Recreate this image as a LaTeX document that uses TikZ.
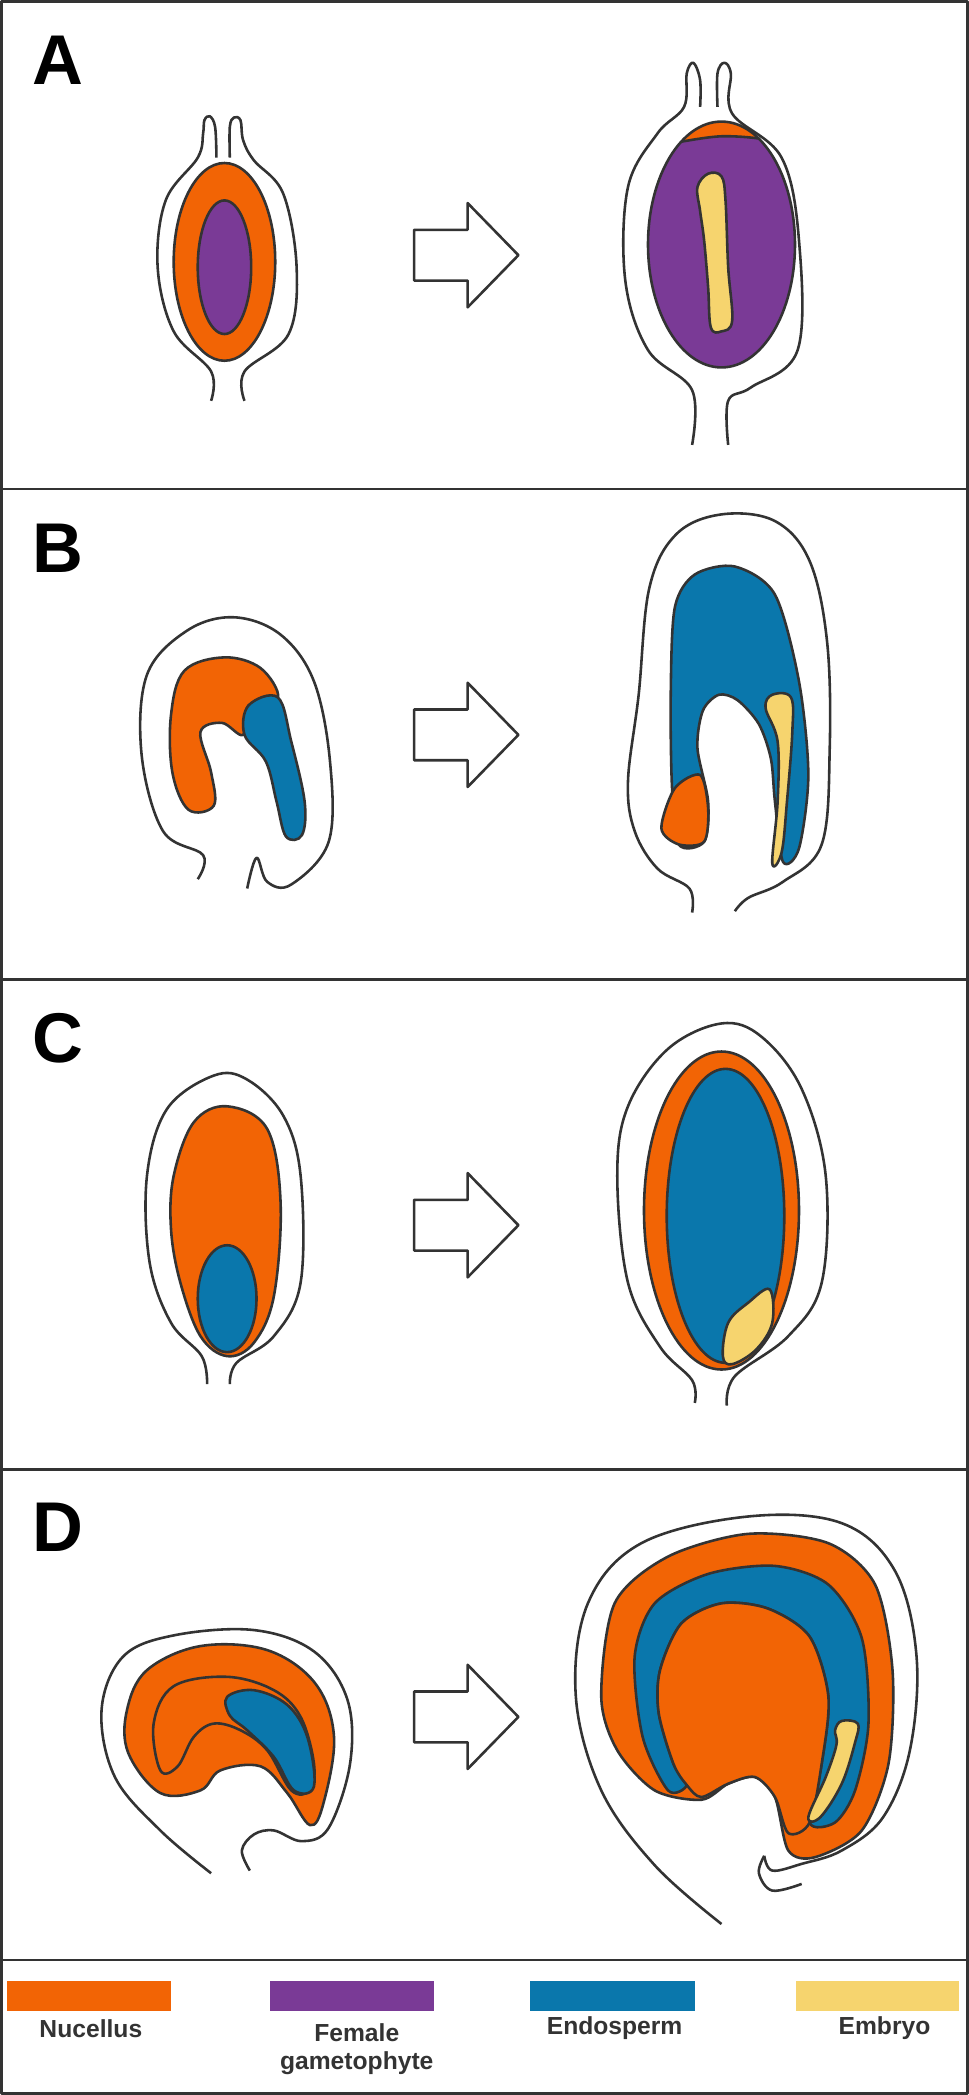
\documentclass[tikz,border=0pt]{standalone}
\usepackage{fontspec}
\setmainfont{Liberation Sans}
\definecolor{nuc}{HTML}{F26405}
\definecolor{fem}{HTML}{7A3A96}
\definecolor{endo}{HTML}{0A77AC}
\definecolor{emb}{HTML}{F6D46E}
\definecolor{ln}{HTML}{333333}
\begin{document}
\begin{tikzpicture}[x=0.02cm,y=-0.02cm,
  ol/.style={draw=ln,line width=1.1pt,line join=round},
  part/.style={ol,fill=#1},
  panellbl/.style={font=\fontsize{30}{32}\selectfont\bfseries,anchor=west},
  leglbl/.style={font=\fontsize{10.5}{12}\selectfont\bfseries,text=ln,align=center},
  blockarrow/.style={ol,fill=white}]
\useasboundingbox (0,0) rectangle (725,1568);
\draw[ol] (1,1) rectangle (724,1567);
\foreach \yy in {366,733,1100,1467} \draw[ol] (1,\yy) -- (724,\yy);
\node[panellbl] (la) at (18,45) {A};
\node[panellbl] (lb) at (18,410) {B};
\node[panellbl] (lc) at (18,777) {C};
\node[panellbl] (ld) at (18,1143) {D};
% arrows
\foreach \cy in {191,550,917,1285}
  \draw[blockarrow] (310,\cy-19) -- (350,\cy-19) -- (350,\cy-39) -- (388,\cy) -- (350,\cy+39) -- (350,\cy+19) -- (310,\cy+19) -- cycle;
% ---- A left
\draw[ol] plot[smooth,tension=0.6] coordinates {(158,300)(158,278)(130,248)(118,200)(124,150)(148,118)(152,100)(153,90)(157,87)(161,95)(162,118)};
\draw[ol] plot[smooth,tension=0.6] coordinates {(172,118)(172,95)(175,88)(180,90)(182,105)(190,120)(212,145)(222,200)(216,250)(183,278)(183,300)};
\draw[part=nuc] (168,196) ellipse (38 and 74);
\draw[part=fem] (168,200) ellipse (20 and 50);
% ---- A right
\draw[ol] plot[smooth,tension=0.6] coordinates {(518,333)(518,292)(485,262)(468,210)(470,140)(492,100)(512,80)(514,55)(519,47)(524,60)(524,80)};
\draw[ol] plot[smooth,tension=0.6] coordinates {(537,80)(537,55)(542,47)(547,55)(548,85)(585,118)(598,180)(597,262)(562,290)(545,300)(545,333)};
\begin{scope}
\clip (540,183) ellipse (55 and 92);
\fill[nuc] (480,85) rectangle (600,290);
\draw[part=fem] plot[smooth,tension=0.5] coordinates {(480,112)(510,106)(540,102)(570,104)(600,112)} -- (600,290) -- (480,290) -- cycle;
\end{scope}
\draw[ol] (540,183) ellipse (55 and 92);
\draw[part=emb] plot[smooth cycle,tension=0.6] coordinates {(522,140)(530,130)(540,132)(543,150)(545,200)(548,240)(540,248)(532,245)(530,215)(527,180)(524,158)};
% ---- B left
\draw[ol] plot[smooth,tension=0.6] coordinates {(148,658)(152,640)(122,622)(106,565)(110,505)(140,472)(175,462)(210,475)(235,510)(247,570)(246,630)(218,662)(200,660)(192,642)(185,665)};
\draw[part=nuc] plot[smooth cycle,tension=0.6] coordinates {(128,535)(138,502)(168,492)(195,500)(208,522)(186,528)(182,550)(166,541)(150,548)(158,578)(160,603)(141,606)(129,578)};
\draw[part=endo] plot[smooth cycle,tension=0.6] coordinates {(186,528)(208,522)(218,555)(228,600)(226,625)(214,626)(207,600)(199,570)(183,550)};
% ---- B right
\draw[ol] plot[smooth,tension=0.6] coordinates {(518,683)(516,665)(492,650)(475,622)(470,585)(478,520)(486,440)(506,400)(540,385)(580,390)(606,420)(619,480)(621,560)(615,632)(586,660)(560,672)(550,682)};
\draw[part=endo] plot[smooth cycle,tension=0.5] coordinates {(505,455)(520,430)(550,424)(580,445)(598,510)(605,580)(598,635)(586,645)(580,600)(577,568)(568,542)(552,524)(538,520)(526,532)(522,560)(530,600)(527,630)(508,632)(503,590)(502,520)};
\draw[part=nuc] plot[smooth cycle,tension=0.5] coordinates {(505,590)(524,580)(530,605)(527,630)(508,632)(495,620)};
\draw[part=emb] plot[smooth cycle,tension=0.6] coordinates {(573,530)(578,520)(592,522)(593,548)(589,600)(585,638)(578,646)(582,600)(582,555)};
% ---- C left
\draw[ol] plot[smooth,tension=0.6] coordinates {(155,1036)(151,1015)(128,990)(112,945)(110,880)(125,830)(160,805)(185,808)(212,835)(225,880)(225,960)(205,1000)(177,1020)(172,1036)};
\draw[part=nuc] plot[smooth cycle,tension=0.6] coordinates {(130,880)(145,840)(170,828)(200,845)(210,900)(205,970)(190,1005)(170,1015)(150,1000)(135,960)(128,920)};
\draw[part=endo] (170,972) ellipse (22 and 40);
% ---- C right
\draw[ol] plot[smooth,tension=0.6] coordinates {(520,1050)(518,1033)(494,1008)(470,960)(462,880)(470,828)(500,785)(540,766)(570,776)(600,815)(618,880)(615,960)(590,1000)(550,1030)(544,1052)};
\draw[part=nuc] (540,906) ellipse (58 and 119);
\draw[part=endo] (543,910) ellipse (44 and 110);
\draw[part=emb] plot[smooth cycle,tension=0.6] coordinates {(541,1015)(545,990)(560,975)(576,965)(578,990)(566,1010)(548,1021)};
% ---- D left
\draw[ol] plot[smooth,tension=0.6] coordinates {(158,1402)(120,1370)(86,1330)(76,1280)(92,1240)(130,1224)(190,1220)(235,1236)(260,1272)(262,1320)(246,1368)(226,1378)(205,1370)(190,1373)(181,1385)(187,1400)};
\draw[part=nuc] plot[smooth cycle,tension=0.6] coordinates {(95,1280)(110,1250)(150,1232)(200,1235)(236,1260)(250,1300)(242,1350)(232,1366)(215,1342)(195,1322)(165,1325)(150,1340)(120,1342)(96,1312)};
\draw[part=nuc] plot[smooth cycle,tension=0.6] coordinates {(120,1325)(115,1290)(130,1262)(170,1255)(205,1265)(225,1285)(235,1320)(232,1340)(218,1340)(200,1310)(180,1295)(160,1290)(145,1300)(133,1322)};
\draw[part=endo] plot[smooth cycle,tension=0.6] coordinates {(170,1270)(190,1265)(215,1276)(230,1300)(235,1337)(220,1340)(205,1315)(185,1295)(172,1284)};
% ---- D right
\draw[ol] plot[smooth,tension=0.6] coordinates {(540,1440)(490,1396)(450,1340)(431,1270)(440,1200)(480,1155)(560,1135)(630,1140)(670,1176)(686,1240)(681,1310)(661,1360)(630,1385)(600,1395)(578,1400)(572,1389)};
\draw[ol] plot[smooth,tension=0.6] coordinates {(572,1389)(568,1402)(578,1415)(600,1410)};
\draw[part=nuc] plot[smooth cycle,tension=0.5] coordinates {(450,1270)(460,1200)(500,1165)(560,1148)(620,1155)(655,1186)(668,1250)(665,1320)(645,1370)(610,1390)(590,1385)(580,1345)(565,1330)(545,1335)(525,1347)(490,1340)(462,1310)};
\draw[part=endo] plot[smooth cycle,tension=0.5] coordinates {(475,1240)(490,1200)(530,1178)(580,1172)(620,1186)(645,1226)(650,1290)(640,1340)(625,1364)(606,1364)(615,1320)(620,1270)(606,1225)(575,1204)(540,1200)(510,1215)(494,1250)(493,1282)(504,1320)(514,1336)(500,1340)(481,1300)};
\draw[part=nuc] plot[smooth cycle,tension=0.5] coordinates {(494,1250)(510,1215)(540,1200)(575,1204)(606,1225)(620,1270)(615,1320)(606,1364)(590,1372)(580,1345)(565,1330)(545,1335)(525,1345)(514,1336)(504,1320)(493,1282)};
\draw[part=emb] plot[smooth cycle,tension=0.6] coordinates {(625,1295)(630,1288)(642,1290)(640,1304)(630,1335)(614,1360)(605,1360)(618,1330)(626,1306)};
% ---- legend
\fill[nuc] (5,1483) rectangle (128,1505);
\fill[fem] (202,1483) rectangle (325,1505);
\fill[endo] (397,1483) rectangle (520,1505);
\fill[emb] (596,1483) rectangle (718,1505);
\node[leglbl] (gn) at (68,1518) {Nucellus};
\node[leglbl,anchor=north] (gf) at (267,1508) {Female\\gametophyte};
\node[leglbl] (ge) at (460,1518) {Endosperm};
\node[leglbl] (gm) at (662,1518) {Embryo};
\end{tikzpicture}
\end{document}
